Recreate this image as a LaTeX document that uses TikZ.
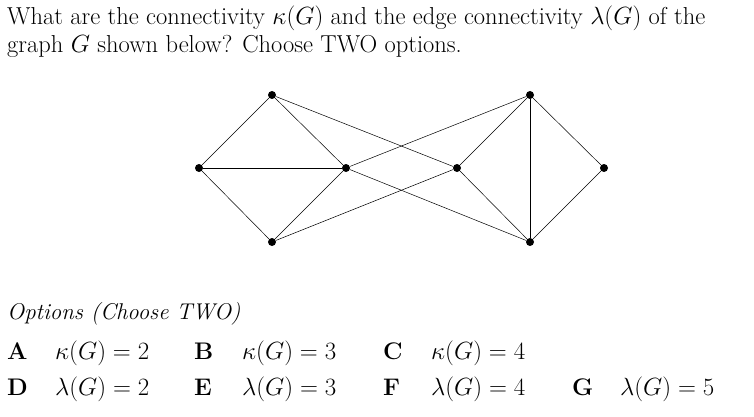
\documentclass[tikz,border=0pt]{standalone}
\begin{document}
\begin{tikzpicture}[x=1pt,y=-1pt,
  v/.style={circle,fill=black,inner sep=0pt,minimum size=8pt},
  e/.style={line width=0.5pt},
  txt/.style={anchor=base west,inner sep=0pt,font=\fontsize{24}{28}\selectfont},
  qtxt/.style={anchor=base west,inner sep=0pt,font=\fontsize{24.5}{28}\selectfont}]
\useasboundingbox (0,0) rectangle (754,417);
\node[qtxt] (q1) at (7,25) {What are the connectivity $\kappa(G)$ and the edge connectivity $\lambda(G)$ of the};
\node[qtxt] (q2) at (7,53) {graph $G$ shown below? Choose TWO options.};
\node[v] (a) at (199,168) {};
\node[v] (b) at (272,95) {};
\node[v] (c) at (272,242) {};
\node[v] (d) at (346,168) {};
\node[v] (ee) at (457,168) {};
\node[v] (f) at (530,95) {};
\node[v] (g) at (530,242) {};
\node[v] (h) at (604,168) {};
\foreach \u/\w in {a/b,a/c,a/d,b/d,c/d,b/ee,c/ee,d/f,d/g,ee/f,ee/g,f/g,f/h,g/h}
  \draw[e] (\u) -- (\w);
\node[txt,font=\fontsize{22.8}{28}\selectfont] (o) at (7,319) {\textit{Options (Choose TWO)}};
\node[txt] (la) at (7,359) {\textbf{A}};
\node[txt] (ta) at (55,359) {$\kappa(G)=2$};
\node[txt] (lb) at (194,359) {\textbf{B}};
\node[txt] (tb) at (242,359) {$\kappa(G)=3$};
\node[txt] (lc) at (383,359) {\textbf{C}};
\node[txt] (tc) at (431,359) {$\kappa(G)=4$};
\node[txt] (ld) at (7,395) {\textbf{D}};
\node[txt] (td) at (55,395) {$\lambda(G)=2$};
\node[txt] (le) at (194,395) {\textbf{E}};
\node[txt] (te) at (242,395) {$\lambda(G)=3$};
\node[txt] (lf) at (383,395) {\textbf{F}};
\node[txt] (tf) at (431,395) {$\lambda(G)=4$};
\node[txt] (lg) at (572,395) {\textbf{G}};
\node[txt] (tg) at (620,395) {$\lambda(G)=5$};
\end{tikzpicture}
\end{document}
